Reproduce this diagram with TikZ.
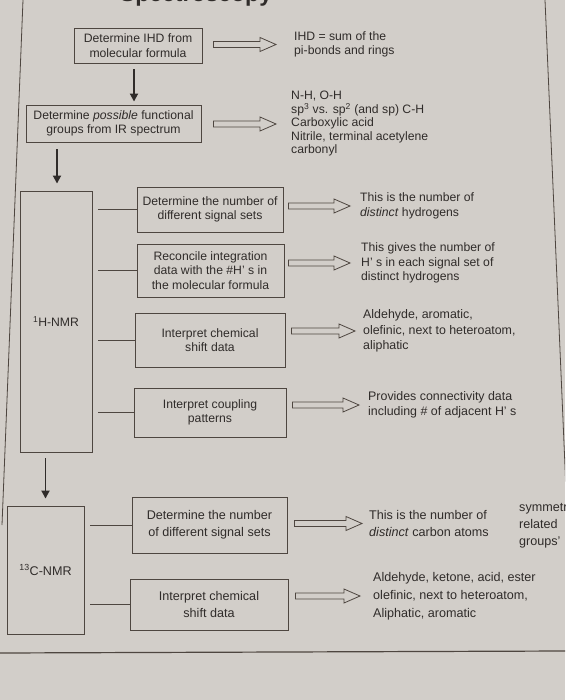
\documentclass[tikz,border=0pt]{standalone}
\usepackage{fontspec}
\setmainfont{Liberation Sans}
\usetikzlibrary{arrows.meta,calc}
\definecolor{paper}{RGB}{210,206,201}
\definecolor{ink}{RGB}{48,44,42}
\definecolor{rule}{RGB}{78,70,64}
\tikzset{
every node/.style={inner sep=0pt, text=ink},
stepbox/.style={rectangle, draw=rule, line width=0.9pt, align=center},
note/.style={anchor=west, align=left},
link/.style={draw=rule, line width=0.8pt, shorten <=6pt},
down/.style={draw=ink, line width=1.8pt, -{Triangle[length=8pt,width=8pt]}},
hollow/.style={draw=rule, line width=0.8pt, to path={let \p1=(\tikztostart), \p2=(\tikztotarget) in
  (\x1,\y2+3pt) -- (\x2-16pt,\y2+3pt) -- (\x2-16pt,\y2+7pt) -- (\x2,\y2)
  -- (\x2-16pt,\y2-7pt) -- (\x2-16pt,\y2-3pt) -- (\x1,\y2-3pt) -- cycle}}
}

\begin{document}
\begin{tikzpicture}[x=1pt, y=-1pt, font=\fontsize{12.2}{14.5}\selectfont]
\useasboundingbox (0,0) rectangle (565,700);
\clip (0,0) rectangle (565,700);
\fill[paper] (0,0) rectangle (565,700);
% page edges
\draw[rule, line width=0.8pt] (23,0) -- (2,525);
\draw[rule, line width=0.8pt] (545,0) -- (566,490);
\draw[rule, line width=1.2pt] (0,653) -- (565,651);

\node [anchor=base, font=\bfseries\fontsize{23}{23}\selectfont] (title) at (196,2) {Spectroscopy};

\node [stepbox, minimum width=128, minimum height=35] (ihd) at (138,45.5) {Determine IHD from\\molecular formula};
\node [stepbox, minimum width=175, minimum height=37] (ir) at (113.5,123.5) {Determine \textit{possible} functional\\groups from IR spectrum};
\node [stepbox, minimum width=72, minimum height=261] (hnmr) at (56,321.5) {\textsuperscript{1}H-NMR};
\node [stepbox, minimum width=146, minimum height=45] (sigH) at (210,209.5) {Determine the number of\\different signal sets};
\node [stepbox, minimum width=147, minimum height=53] (integ) at (210.5,270.5) {Reconcile integration\\data with the \#H’ s in\\the molecular formula};
\node [stepbox, minimum width=150, minimum height=54] (shiftH) at (210,340) {Interpret chemical\\shift data};
\node [stepbox, minimum width=152, minimum height=49] (coupl) at (210,412.5) {Interpret coupling\\patterns};
\node [stepbox, minimum width=77, minimum height=128, font=\fontsize{12.6}{17}\selectfont] (cnmr) at (45.5,570) {\textsuperscript{13}C-NMR};
\node [stepbox, minimum width=155, minimum height=56, font=\fontsize{12.6}{17}\selectfont] (sigC) at (209.5,525) {Determine the number\\of different signal sets};
\node [stepbox, minimum width=158, minimum height=51, font=\fontsize{12.6}{17}\selectfont] (shiftC) at (209,604.5) {Interpret chemical\\shift data};

\node [note] (ihdtxt) at (294,44.5) {IHD = sum of the\\pi-bonds and rings};
\node [note, font=\fontsize{12.2}{13.5}\selectfont] (irtxt) at (291,124) {N-H, O-H\\sp\textsuperscript{3} vs. sp\textsuperscript{2} (and sp) C-H\\Carboxylic acid\\Nitrile, terminal acetylene\\carbonyl};
\node [note] (sigHtxt) at (360,206) {This is the number of\\\textit{distinct} hydrogens};
\node [note] (integtxt) at (361,263) {This gives the number of\\H’ s in each signal set of\\distinct hydrogens};
\node [note, font=\fontsize{12.4}{15.5}\selectfont] (shiftHtxt) at (363,331) {Aldehyde, aromatic,\\olefinic, next to heteroatom,\\aliphatic};
\node [note, font=\fontsize{12.4}{15.5}\selectfont] (coupltxt) at (368,405) {Provides connectivity data\\including \# of adjacent H’ s};
\node [note, font=\fontsize{12.6}{17}\selectfont] (sigCtxt) at (369,523.5) {This is the number of\\\textit{distinct} carbon atoms};
\node [note, font=\fontsize{12.6}{17}\selectfont] (symtxt) at (519,525) {symmetrically\\related\\groups’};
\node [note, font=\fontsize{12.6}{18}\selectfont] (shiftCtxt) at (373,596) {Aldehyde, ketone, acid, ester\\olefinic, next to heteroatom,\\Aliphatic, aromatic};

\draw[down] ($(ihd.south)+(-4,6)$) -- ($(ihd.south |- ir.north)+(-4,-3)$);
\draw[down] ($(hnmr.north |- ir.south)+(1,7)$) -- ($(hnmr.north)+(1,-7)$);
\draw[down] ($(cnmr.north |- hnmr.south)+(0,6)$) -- ($(cnmr.north)+(0,-7)$);

\draw[link] (hnmr.east |- sigH.west) -- (sigH.west);
\draw[link] (hnmr.east |- integ.west) -- (integ.west);
\draw[link] (hnmr.east |- shiftH.west) -- (shiftH.west);
\draw[link] (hnmr.east |- coupl.west) -- (coupl.west);
\draw[link] (cnmr.east |- sigC.west) -- (sigC.west);
\draw[link] (cnmr.east |- shiftC.west) -- (shiftC.west);

\draw[hollow] ($(ihd.east)+(11,0)$) to ($(ihdtxt.west)+(-18,0)$);
\draw[hollow] ($(ir.east)+(12,0)$) to ($(irtxt.west)+(-15,0)$);
\draw[hollow] ($(sigH.east)+(5,0)$) to ($(sigHtxt.west)+(-10,0)$);
\draw[hollow] ($(integ.east)+(4,0)$) to ($(integtxt.west)+(-11,0)$);
\draw[hollow] ($(shiftH.east)+(6,0)$) to ($(shiftHtxt.west)+(-8,0)$);
\draw[hollow] ($(coupl.east)+(6,0)$) to ($(coupltxt.west)+(-9,0)$);
\draw[hollow] ($(sigC.east)+(7,0)$) to ($(sigCtxt.west)+(-7,0)$);
\draw[hollow] ($(shiftC.east)+(7,0)$) to ($(shiftCtxt.west)+(-13,0)$);
\end{tikzpicture}
\end{document}
